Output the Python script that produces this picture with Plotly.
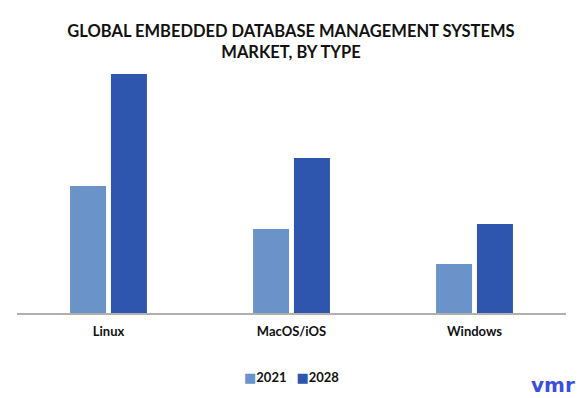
import plotly.graph_objects as go

categories = ["Linux", "MacOS/iOS", "Windows"]
values_2021 = [1.27, 0.84, 0.49]
values_2028 = [2.39, 1.55, 0.89]
series_names = ["2021", "2028"]

c2021 = "#6a94c9"
c2028 = "#2e56ae"
colors = [c2021, c2028]

fig = go.Figure()
fig.add_trace(go.Bar(x=categories, y=values_2021, name=series_names[0],
                     marker=dict(color=c2021, line=dict(width=0))))
fig.add_trace(go.Bar(x=categories, y=values_2028, name=series_names[1],
                     marker=dict(color=c2028, line=dict(width=0))))

fig.update_layout(
    width=582, height=398,
    margin=dict(l=17, r=16, t=60, b=85, autoexpand=False),
    paper_bgcolor="white", plot_bgcolor="white",
    barmode="group", bargap=0.553, bargroupgap=0.12,
    title=dict(text="<b>GLOBAL EMBEDDED DATABASE MANAGEMENT SYSTEMS<br>MARKET, BY TYPE</b>",
               x=0.5, xanchor="center", y=0.908, yanchor="top",
               font=dict(family="Lato", size=16.5, color="#111111")),
    xaxis=dict(showline=True, linecolor="#b0b0b0", linewidth=1.5, ticks="",
               tickfont=dict(family="Lato", size=13, color="#111111"),
               showgrid=False, automargin=False, ticklabelstandoff=6,
               tickprefix="<b>", ticksuffix="</b>"),
    yaxis=dict(visible=False, range=[0, 2.53], showgrid=False, automargin=False),
    showlegend=False,
)

legend_text = "&nbsp;&nbsp;&nbsp;".join(
    f"<span style='color:{c}; font-family:DejaVu Sans'>■</span><b>{n}</b>"
    for n, c in zip(series_names, colors)
)
fig.add_annotation(text=legend_text, xref="paper", yref="paper", x=0.5, y=-0.253,
                   xanchor="center", yanchor="middle", showarrow=False,
                   font=dict(family="Lato", size=13, color="#111111"))

fig.add_annotation(text="<b>vmr</b>", xref="paper", yref="paper", x=1.02, y=-0.285,
                   xanchor="right", yanchor="middle", showarrow=False,
                   font=dict(family="DejaVu Sans", size=20, color="#3a50d8"))

fig.write_html("out.html",
               config={"displayModeBar": False},
               post_script="document.body.style.margin='0';document.body.style.overflow='hidden';")
